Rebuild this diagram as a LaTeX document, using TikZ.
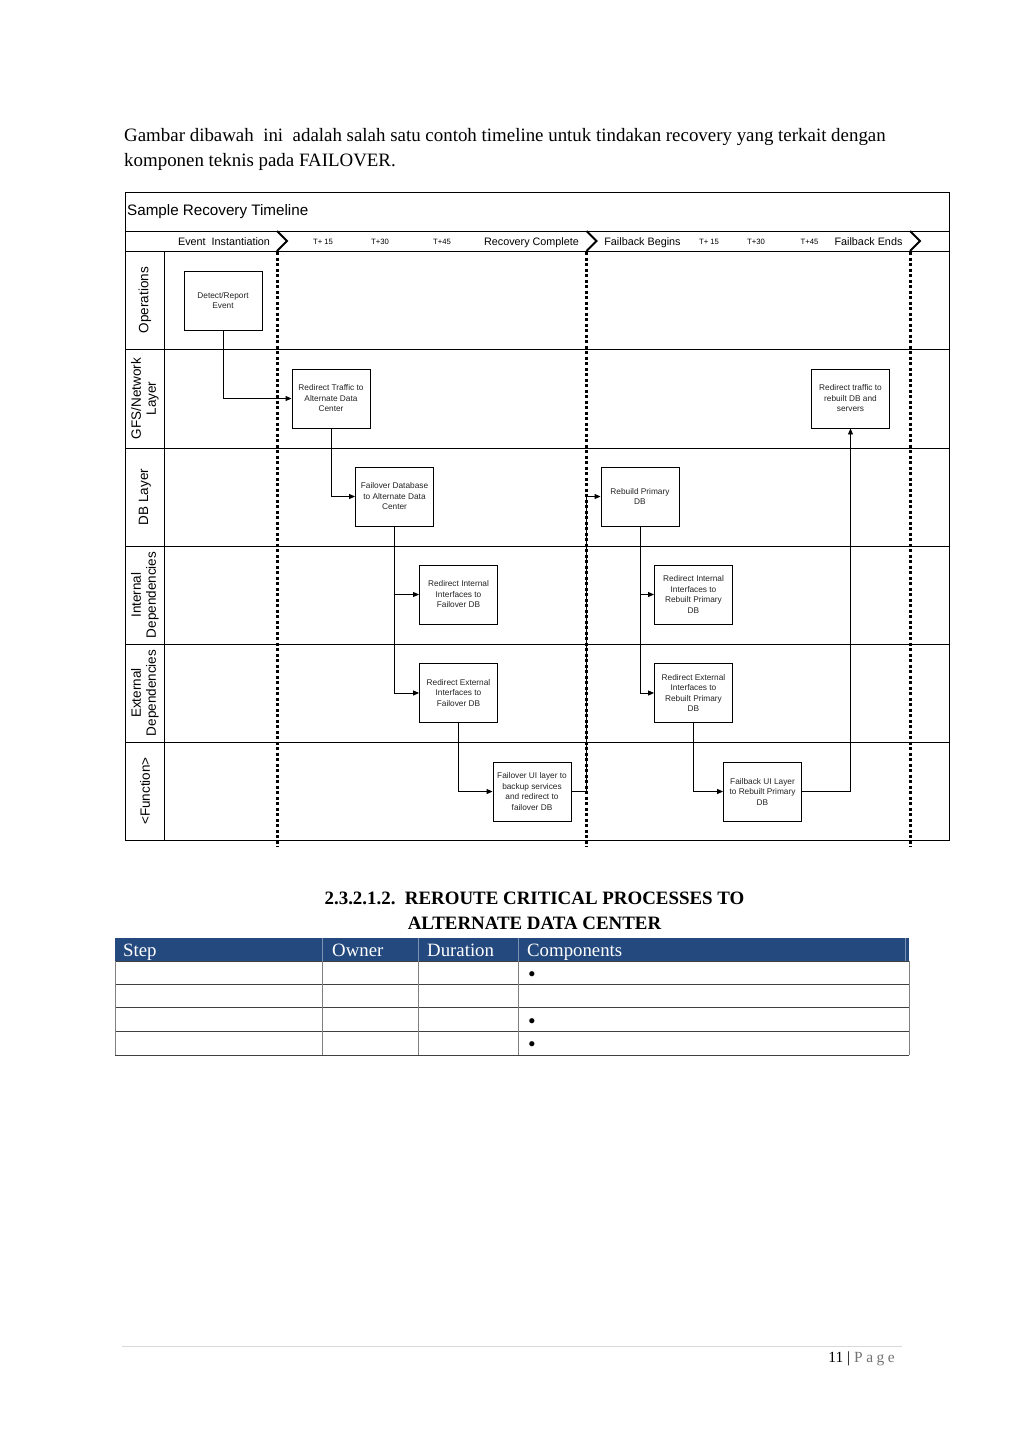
\documentclass[tikz,border=0pt]{standalone}
\usepackage{fontspec}
\setmainfont{Liberation Serif}
\setsansfont{Liberation Sans}
\usetikzlibrary{arrows.meta}
\definecolor{hdrblue}{RGB}{36,73,126}
\definecolor{boxtext}{RGB}{35,35,35}
\begin{document}
\begin{tikzpicture}[x=1pt,y=-1pt,
  box/.style={draw, line width=0.9pt, minimum width=78pt, minimum height=59pt, inner sep=1pt, align=center, text=boxtext, font=\sffamily\fontsize{8.3}{10.5}\selectfont},
  arr/.style={line width=0.9pt, -{Triangle[length=6pt,width=5pt]}},
  frameline/.style={line width=0.9pt},
  divider/.style={line width=3pt, dash pattern=on 3.2pt off 2.3pt},
  chev/.style={line width=1.8pt, line join=miter},
  hdr/.style={font=\sffamily\fontsize{10.8}{12}\selectfont, inner sep=0, anchor=base},
  tick/.style={font=\sffamily\fontsize{7.7}{9}\selectfont, inner sep=0, anchor=base},
  lane/.style={rotate=90, align=center, font=\sffamily\fontsize{13.5}{15}\selectfont, inner sep=0},
  body/.style={font=\fontsize{18.9}{24}\selectfont, inner sep=0},
  thead/.style={font=\fontsize{18.8}{22}\selectfont, text=white, inner sep=0, anchor=base west},
  bul/.style={font=\fontsize{19}{19}\selectfont\bfseries, inner sep=0, anchor=base, text height=9pt, text depth=0pt}
]
\useasboundingbox (0,0) rectangle (1024,1449);

% introductory paragraph
\node[body, anchor=base west] (para1) at (124,141) {Gambar dibawah\ \ ini\ \ adalah salah satu contoh timeline untuk tindakan recovery yang terkait dengan};
\node[body, anchor=base west] (para2) at (124,166) {komponen teknis pada FAILOVER.};

% frame of the timeline
\draw[frameline] (125,192) rectangle (949,840);
\draw[frameline] (125,231) -- (949,231);
\draw[frameline] (125,251) -- (949,251);
\foreach \yy in {349,448,546,644,742} \draw[frameline] (125,\yy) -- (949,\yy);
\draw[frameline] (164,251) -- (164,840);

\node[anchor=west, inner sep=0, font=\sffamily\fontsize{15.2}{17}\selectfont] (title) at (127,212) {Sample Recovery Timeline};

% phase dividers
\coordinate (d1top) at (277,252);
\coordinate (d1bot) at (277,847);
\coordinate (d2top) at (586,252);
\coordinate (d2bot) at (586,847);
\coordinate (d3top) at (910,252);
\coordinate (d3bot) at (910,847);
\draw[divider] (d1top) -- (d1bot);
\draw[divider] (d2top) -- (d2bot);
\draw[divider] (d3top) -- (d3bot);

% chevrons
\draw[chev] (277,231) -- (287,241) -- (277,251);
\draw[chev] (586.5,231) -- (596.5,241) -- (586.5,251);
\draw[chev] (910,231) -- (920,241) -- (910,251);

% header labels
\node[hdr] (h1) at (224,245) {Event\ \ Instantiation};
\node[tick] (h2) at (323,244) {T+ 15};
\node[tick] (h3) at (380,244) {T+30};
\node[tick] (h4) at (442,244) {T+45};
\node[hdr] (h5) at (531.5,245) {Recovery Complete};
\node[hdr] (h6) at (642.5,245) {Failback Begins};
\node[tick] (h7) at (709,244) {T+ 15};
\node[tick] (h8) at (756,244) {T+30};
\node[tick] (h9) at (809.5,244) {T+45};
\node[hdr] (h10) at (868.5,245) {Failback Ends};

% lane labels
\node[lane] (l1) at (145,300) {Operations};
\node[lane] (l2) at (145,398.5) {GFS/Network\\Layer};
\node[lane] (l3) at (145,497) {DB Layer};
\node[lane] (l4) at (145,595) {Internal\\Dependencies};
\node[lane] (l5) at (145,693) {External\\Dependencies};
\node[lane] (l6) at (145,791) {<Function>};

% boxes
\node[box] (det) at (223,300.5) {Detect/Report\\Event};
\node[box] (rt) at (331,398.5) {Redirect Traffic to\\Alternate Data\\Center};
\node[box] (fdb) at (394.5,496.5) {Failover Database\\to Alternate Data\\Center};
\node[box] (rif) at (458.5,594.5) {Redirect Internal\\Interfaces to\\Failover DB};
\node[box] (ref) at (458.5,693) {Redirect External\\Interfaces to\\Failover DB};
\node[box] (fui) at (532,791.5) {Failover UI layer to\\backup services\\and redirect to\\failover DB};
\node[box] (rpd) at (640,496.5) {Rebuild Primary\\DB};
\node[box] (rir) at (693.5,594.5) {Redirect Internal\\Interfaces to\\Rebuilt Primary\\DB};
\node[box] (rer) at (693.5,693) {Redirect External\\Interfaces to\\Rebuilt Primary\\DB};
\node[box] (fbui) at (762.5,791.5) {Failback UI Layer\\to Rebuilt Primary\\DB};
\node[box] (rtr) at (850.5,398.5) {Redirect traffic to\\rebuilt DB and\\servers};

% connectors
\draw[arr] (det.south) |- (rt.west);
\draw[arr] (rt.south) |- (fdb.west);
\draw[arr] (fdb.south) |- (rif.west);
\draw[arr] (fdb.south) |- (ref.west);
\draw[arr] (ref.south) |- (fui.west);
\draw[arr] (fui.east) -- (fui.east -| d2top) |- (rpd.west);
\draw[arr] (rpd.south) |- (rir.west);
\draw[arr] (rpd.south) |- (rer.west);
\draw[arr] (rer.south) |- (fbui.west);
\draw[arr] (fbui.east) -| (rtr.south);

% section heading
\node[align=center, inner sep=0, font=\bfseries\fontsize{18.9}{25}\selectfont] (head) at (534.5,910.5) {2.3.2.1.2.\ \ REROUTE CRITICAL PROCESSES TO\\ALTERNATE DATA CENTER};

% table
\fill[hdrblue] (115,938) rectangle (909,961);
\foreach \xx in {322,418,518,905} \draw[hdrblue!60!white, line width=0.6pt] (\xx,938) -- (\xx,961);
\node[thead] (c1) at (123,956) {Step};
\node[thead] (c2) at (332,956) {Owner};
\node[thead] (c3) at (427,956) {Duration};
\node[thead] (c4) at (527,956) {Components};
\foreach \yy in {961,984,1007,1031,1055} \draw[black!75, line width=0.9pt] (115,\yy) -- (909,\yy);
\foreach \xx in {115,322,418,518,909} \draw[black!50, line width=0.9pt] (\xx,961) -- (\xx,1055);
\node[bul] (b1) at (532,980) {\textbullet};
\node[bul] (b3) at (532,1027) {\textbullet};
\node[bul] (b4) at (532,1050) {\textbullet};

% footer
\draw[black!15, line width=0.8pt] (122,1346) -- (902,1346);
\node[anchor=east, inner sep=0, font=\fontsize{15.5}{17}\selectfont] (pg) at (895,1359) {11 | \textcolor{black!55}{P\hspace{3.5pt}a\hspace{3.5pt}g\hspace{3.5pt}e}};
\end{tikzpicture}
\end{document}
